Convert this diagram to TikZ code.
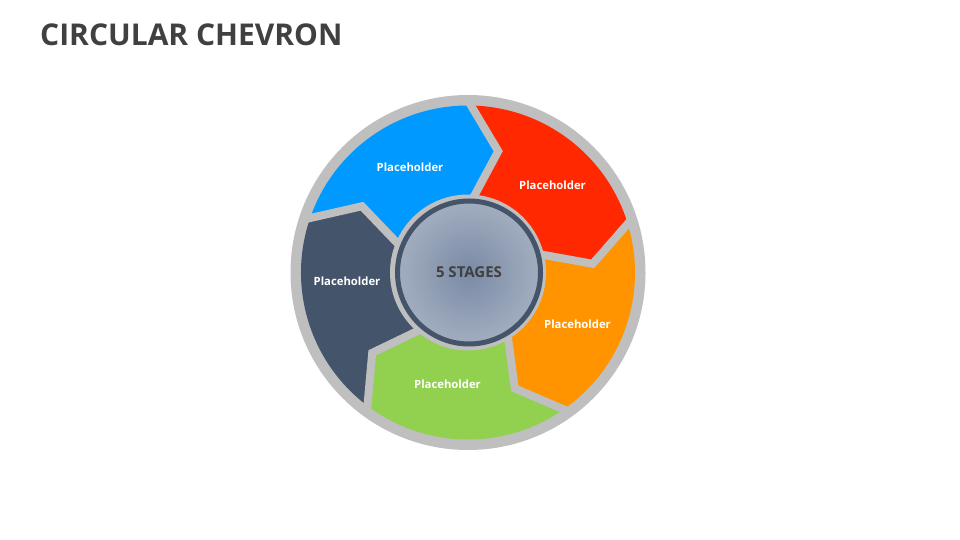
\documentclass[tikz,border=0pt]{standalone}
\usepackage{fontspec}
\setmainfont{Open Sans}
\definecolor{ringgray}{HTML}{BFBFBF}
\definecolor{cblue}{HTML}{0099FF}
\definecolor{cred}{HTML}{FF2800}
\definecolor{corange}{HTML}{FF9400}
\definecolor{cgreen}{HTML}{92D050}
\definecolor{cdark}{HTML}{44546A}
\definecolor{ctext}{HTML}{404040}
\definecolor{hubin}{RGB}{122,139,166}
\definecolor{hubout}{RGB}{202,207,216}
\pgfdeclareradialshading{hubshade}{\pgfpoint{0bp}{0bp}}{color(0bp)=(hubin); color(50bp)=(hubout)}
\tikzset{
  lbl/.style={text=white, font=\fontsize{11.3}{13}\selectfont\bfseries, inner sep=0pt},
  gapline/.style={draw=ringgray, line width=8pt, line join=miter, miter limit=10},
}
\newcommand{\chevseg}[2]{% #1 trailing angle, #2 colour
  \fill[#2] (#1:167) arc[start angle=#1, end angle={#1-72}, radius=167]
    -- ({#1-72-14}:125) -- ({#1-72}:60)
    arc[start angle={#1-72}, end angle=#1, radius=60]
    -- ({#1-14}:125) -- cycle;
}
\begin{document}
\begin{tikzpicture}[x=1pt,y=1pt]
\useasboundingbox (0,-540) rectangle (960,0);
\node[anchor=base west, inner sep=0pt, text=ctext, font=\fontsize{30}{36}\selectfont\bfseries] (title) at (40,-46) {CIRCULAR CHEVRON};
\begin{scope}[shift={(468,-272.5)}]
  \fill[ringgray] (0,0) circle[radius=177.5];
  \chevseg{162}{cblue}
  \chevseg{90}{cred}
  \chevseg{18}{corange}
  \chevseg{-54}{cgreen}
  \chevseg{-126}{cdark}
  \foreach \a in {162,90,18,-54,-126}{
    \draw[gapline] (\a:172) -- ({\a-14}:125) -- (\a:65);
  }
  \fill[ringgray] (0,0) circle[radius=78];
  \node[circle, draw=cdark, line width=5pt, minimum size=143pt, inner sep=0pt, shading=hubshade, text=ctext, font=\fontsize{15}{18}\selectfont\bfseries] (hub) at (1,0) {5 STAGES};
\end{scope}
\node[lbl] (pblue) at (410,-167) {Placeholder};
\node[lbl] (pred) at (552.5,-185) {Placeholder};
\node[lbl] (porange) at (577.5,-324) {Placeholder};
\node[lbl] (pgreen) at (447.5,-384) {Placeholder};
\node[lbl] (pdark) at (347,-281.5) {Placeholder};
\end{tikzpicture}
\end{document}
